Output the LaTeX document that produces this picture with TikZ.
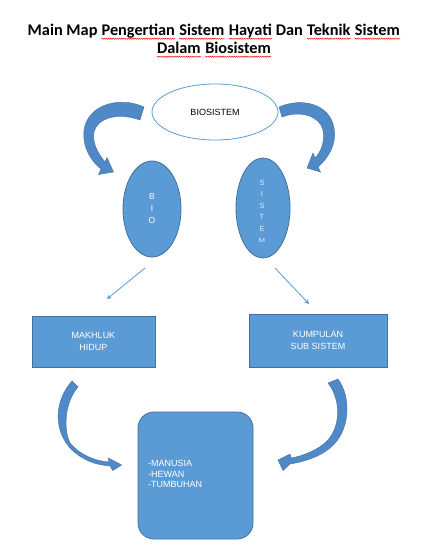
\documentclass[tikz,border=0pt]{standalone}
\usepackage{fontspec}
\setmainfont{Liberation Sans}
\newfontfamily\titlefont{Carlito}
\usetikzlibrary{shapes.geometric,arrows.meta,decorations.pathmorphing}
\definecolor{boxblue}{HTML}{5B9BD5}
\definecolor{edgeblue}{HTML}{41719C}
\definecolor{arrowblue}{HTML}{5089C8}
\newcommand\redwave[1]{\tikz[baseline=(w.base)]{\node[inner sep=0pt] (w) {#1};
  \draw[red, line width=0.45pt, decorate, decoration={snake,amplitude=0.6pt,segment length=2.2pt}]
    ([yshift=-2.8pt]w.base west) -- ([yshift=-2.8pt]w.base east);}}
\tikzset{
  bluefill/.style={fill=boxblue, draw=edgeblue, line width=0.8pt},
  bodytext/.style={font=\fontsize{9}{12}\selectfont},
  thinarrow/.style={draw=boxblue, line width=0.8pt, -{Stealth[length=4.5pt,width=4.5pt]}},
  bandarrow/.style={fill=arrowblue, draw=edgeblue, line width=0.4pt},
}
\begin{document}
\begin{tikzpicture}[x=1pt,y=-1pt, every node/.style={inner sep=0pt}]
\useasboundingbox (0,0) rectangle (447,549);
\fill[white] (0,0) rectangle (447,549);

% title
\node[align=center, font=\titlefont\bfseries\fontsize{16.3}{18}\selectfont] (title) at (214,41)
  {Main Map \redwave{Pengertian} \redwave{Sistem} \redwave{Hayati} Dan \redwave{Teknik} \redwave{Sistem}\\
   \redwave{Dalam} \redwave{Biosistem}};

% ellipses
\node[ellipse, draw=boxblue, fill=white, line width=0.8pt, minimum width=126pt, minimum height=56pt, bodytext] (bios) at (215,112) {BIOSISTEM};
\node[ellipse, bluefill, minimum width=58pt, minimum height=96pt, align=center, text=white,
      font=\fontsize{8.5}{12}\selectfont] (bio) at (152,209) {B\\I\\O};
\node[ellipse, bluefill, minimum width=54pt, minimum height=100pt] (sis) at (263,208) {};
\begin{scope}
  \clip (236,160) rectangle (290,241.5);
  \node[align=center, text=white!80!boxblue, font=\fontsize{7.5}{11.6}\selectfont] (sistxt) at (262,211.5) {S\\I\\S\\T\\E\\M};
\end{scope}

% rectangles
\node[bluefill, minimum width=123pt, minimum height=51pt, align=center, text=white, bodytext] (makhluk) at (93.5,341.5) {MAKHLUK\\HIDUP};
\node[bluefill, minimum width=138pt, minimum height=53pt, align=center, text=white, bodytext] (kumpulan) at (318,340.5) {KUMPULAN\\SUB SISTEM};
\node[bluefill, rounded corners=16pt, minimum width=115pt, minimum height=127pt] (hasil) at (195.5,475.5) {};
\node[anchor=west, align=left, text=white, font=\fontsize{9}{10.5}\selectfont] (list) at (148,474) {-MANUSIA\\-HEWAN\\-TUMBUHAN};

% thin connectors
\coordinate (l1) at (145,268);
\coordinate (l2) at (107,299);
\coordinate (r1) at (275,268);
\coordinate (r2) at (309,304);
\draw[thinarrow] (l1) -- (l2);
\draw[thinarrow] (r1) -- (r2);

% curved block arrows
% top left
\draw[bandarrow] (144,107) .. controls (120,96) and (88,104) .. (84,130)
  .. controls (82,148) and (92,162) .. (101,169) -- (98.5,174.5) -- (113.5,172) -- (107,157.5) -- (105,162)
  .. controls (97,152) and (92,142) .. (94,132) .. controls (97,118) and (118,112) .. (140,120) -- cycle;
% top right
\draw[bandarrow] (279,107) .. controls (302,97) and (330,104) .. (334,128)
  .. controls (337,145) and (328,158) .. (318,167) -- (320.5,172) -- (307,168) -- (313,153) -- (315,158)
  .. controls (321,152) and (325,142) .. (323,130) .. controls (320,116) and (300,110) .. (282,117) -- cycle;
% bottom left
\draw[bandarrow] (72,381) .. controls (55,400) and (52,430) .. (72,450)
  .. controls (85,462) and (98,465) .. (110,466) -- (112.7,470.5) -- (121.7,465) -- (108.3,458) -- (109,462)
  .. controls (95,461) and (80,455) .. (70,443) .. controls (63,428) and (65,402) .. (78,387) -- cycle;
% bottom right
\draw[bandarrow] (338,379) .. controls (352,398) and (350,432) .. (330,448)
  .. controls (318,458) and (302,462) .. (290,464) -- (283,470.5) -- (278,460) -- (290,454) -- (291,458)
  .. controls (303,456) and (318,450) .. (327,441) .. controls (342,425) and (340,398) .. (328,383) -- cycle;
\end{tikzpicture}
\end{document}
